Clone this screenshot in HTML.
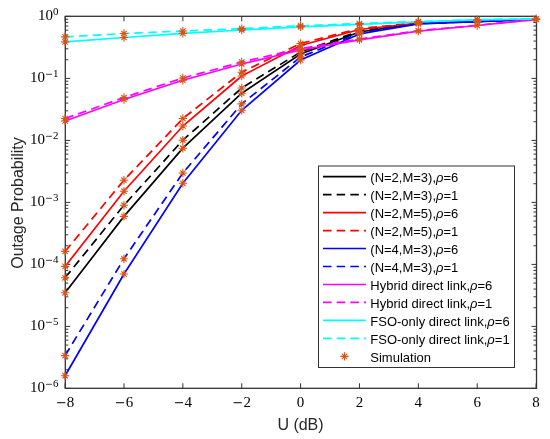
<!DOCTYPE html>
<html><head><meta charset="utf-8"><title>Outage Probability</title>
<style>
html,body{margin:0;padding:0;background:#fff;}
body{width:550px;height:439px;overflow:hidden;}
svg{display:block;}
.tk{font-family:"Liberation Serif",serif;font-size:15px;fill:#000;}
.sup{font-size:11px;}
.mn{font-family:"DejaVu Serif",serif;font-size:13px;}
.mn2{font-family:"DejaVu Serif",serif;font-size:9.5px;}
.lab{font-family:"Liberation Sans",sans-serif;font-size:16px;fill:#262626;}
.lg{font-family:"Liberation Sans",sans-serif;font-size:13px;fill:#000;}
</style></head><body>
<svg width="550" height="439" viewBox="0 0 550 439">
<rect x="0" y="0" width="550" height="439" fill="#fff"/>

<rect x="65.1" y="16.4" width="471.0" height="372.0" fill="#fff"/>
<path d="M65.10 388.3v-5M65.10 16.3v5M123.97 388.3v-5M123.97 16.3v5M182.85 388.3v-5M182.85 16.3v5M241.72 388.3v-5M241.72 16.3v5M300.60 388.3v-5M300.60 16.3v5M359.48 388.3v-5M359.48 16.3v5M418.35 388.3v-5M418.35 16.3v5M477.23 388.3v-5M477.23 16.3v5M536.10 388.3v-5M536.10 16.3v5M65.3 16.40h5M536.5 16.40h-5M65.3 59.74h3M536.5 59.74h-3M65.3 48.82h3M536.5 48.82h-3M65.3 41.07h3M536.5 41.07h-3M65.3 35.06h3M536.5 35.06h-3M65.3 30.15h3M536.5 30.15h-3M65.3 26.00h3M536.5 26.00h-3M65.3 22.41h3M536.5 22.41h-3M65.3 19.24h3M536.5 19.24h-3M65.3 78.40h5M536.5 78.40h-5M65.3 121.74h3M536.5 121.74h-3M65.3 110.82h3M536.5 110.82h-3M65.3 103.07h3M536.5 103.07h-3M65.3 97.06h3M536.5 97.06h-3M65.3 92.15h3M536.5 92.15h-3M65.3 88.00h3M536.5 88.00h-3M65.3 84.41h3M536.5 84.41h-3M65.3 81.24h3M536.5 81.24h-3M65.3 140.40h5M536.5 140.40h-5M65.3 183.74h3M536.5 183.74h-3M65.3 172.82h3M536.5 172.82h-3M65.3 165.07h3M536.5 165.07h-3M65.3 159.06h3M536.5 159.06h-3M65.3 154.15h3M536.5 154.15h-3M65.3 150.00h3M536.5 150.00h-3M65.3 146.41h3M536.5 146.41h-3M65.3 143.24h3M536.5 143.24h-3M65.3 202.40h5M536.5 202.40h-5M65.3 245.74h3M536.5 245.74h-3M65.3 234.82h3M536.5 234.82h-3M65.3 227.07h3M536.5 227.07h-3M65.3 221.06h3M536.5 221.06h-3M65.3 216.15h3M536.5 216.15h-3M65.3 212.00h3M536.5 212.00h-3M65.3 208.41h3M536.5 208.41h-3M65.3 205.24h3M536.5 205.24h-3M65.3 264.40h5M536.5 264.40h-5M65.3 307.74h3M536.5 307.74h-3M65.3 296.82h3M536.5 296.82h-3M65.3 289.07h3M536.5 289.07h-3M65.3 283.06h3M536.5 283.06h-3M65.3 278.15h3M536.5 278.15h-3M65.3 274.00h3M536.5 274.00h-3M65.3 270.41h3M536.5 270.41h-3M65.3 267.24h3M536.5 267.24h-3M65.3 326.40h5M536.5 326.40h-5M65.3 369.74h3M536.5 369.74h-3M65.3 358.82h3M536.5 358.82h-3M65.3 351.07h3M536.5 351.07h-3M65.3 345.06h3M536.5 345.06h-3M65.3 340.15h3M536.5 340.15h-3M65.3 336.00h3M536.5 336.00h-3M65.3 332.41h3M536.5 332.41h-3M65.3 329.24h3M536.5 329.24h-3M65.3 388.40h5M536.5 388.40h-5" stroke="#333333" stroke-width="1" fill="none"/>
<polyline points="65.10,292.80 123.97,216.40 182.85,148.20 241.72,93.20 300.60,54.00 359.48,32.00 418.35,23.40 477.23,21.50 536.10,19.20" fill="none" stroke="#000000" stroke-width="1.7"/>
<polyline points="65.10,277.80 123.97,205.20 182.85,140.20 241.72,88.00 300.60,52.00 359.48,31.00 418.35,23.20 477.23,21.40 536.10,19.20" fill="none" stroke="#000000" stroke-width="1.7" stroke-dasharray="8.6 5.25"/>
<polyline points="65.10,266.40 123.97,191.20 182.85,126.00 241.72,76.00 300.60,45.50 359.48,29.50 418.35,23.00 477.23,21.40 536.10,19.20" fill="none" stroke="#FF0000" stroke-width="1.7"/>
<polyline points="65.10,251.40 123.97,180.20 182.85,118.50 241.72,72.20 300.60,43.50 359.48,28.50 418.35,22.80 477.23,21.30 536.10,19.20" fill="none" stroke="#FF0000" stroke-width="1.7" stroke-dasharray="8.6 5.25"/>
<polyline points="65.10,375.70 123.97,274.00 182.85,183.30 241.72,110.30 300.60,60.00 359.48,34.00 418.35,23.80 477.23,21.70 536.10,19.20" fill="none" stroke="#0000FF" stroke-width="1.7"/>
<polyline points="65.10,355.60 123.97,258.80 182.85,173.00 241.72,103.90 300.60,57.00 359.48,33.00 418.35,23.50 477.23,21.60 536.10,19.20" fill="none" stroke="#0000FF" stroke-width="1.7" stroke-dasharray="8.6 5.25"/>
<polyline points="65.10,121.00 123.97,99.50 182.85,80.20 241.72,64.00 300.60,50.00 359.48,39.80 418.35,31.10 477.23,25.50 536.10,19.40" fill="none" stroke="#FF00FF" stroke-width="1.7"/>
<polyline points="65.10,118.50 123.97,97.50 182.85,78.00 241.72,62.00 300.60,48.50 359.48,39.00 418.35,30.70 477.23,25.30 536.10,19.30" fill="none" stroke="#FF00FF" stroke-width="1.7" stroke-dasharray="8.6 5.25"/>
<polyline points="65.10,41.90 123.97,37.50 182.85,33.40 241.72,30.00 300.60,26.80 359.48,24.30 418.35,21.80 477.23,19.90 536.10,18.80" fill="none" stroke="#00FFFF" stroke-width="1.7"/>
<polyline points="65.10,36.90 123.97,33.50 182.85,31.00 241.72,28.60 300.60,25.80 359.48,23.50 418.35,21.50 477.23,19.70 536.10,18.80" fill="none" stroke="#00FFFF" stroke-width="1.7" stroke-dasharray="8.6 5.25"/>
<rect x="65.3" y="16.3" width="471.2" height="372.0" fill="none" stroke="#333333" stroke-width="1.3"/>
<path d="M60.90 292.80H69.30M65.10 288.60V297.00M62.41 290.11L67.79 295.49M62.41 295.49L67.79 290.11M119.77 216.40H128.17M123.97 212.20V220.60M121.29 213.71L126.66 219.09M121.29 219.09L126.66 213.71M178.65 148.20H187.05M182.85 144.00V152.40M180.16 145.51L185.54 150.89M180.16 150.89L185.54 145.51M237.53 93.20H245.92M241.72 89.00V97.40M239.04 90.51L244.41 95.89M239.04 95.89L244.41 90.51M296.40 54.00H304.80M300.60 49.80V58.20M297.91 51.31L303.29 56.69M297.91 56.69L303.29 51.31M355.28 32.00H363.68M359.48 27.80V36.20M356.79 29.31L362.16 34.69M356.79 34.69L362.16 29.31M414.15 23.40H422.55M418.35 19.20V27.60M415.66 20.71L421.04 26.09M415.66 26.09L421.04 20.71M473.03 21.50H481.43M477.23 17.30V25.70M474.54 18.81L479.91 24.19M474.54 24.19L479.91 18.81M531.90 19.20H540.30M536.10 15.00V23.40M533.41 16.51L538.79 21.89M533.41 21.89L538.79 16.51M60.90 277.80H69.30M65.10 273.60V282.00M62.41 275.11L67.79 280.49M62.41 280.49L67.79 275.11M119.77 205.20H128.17M123.97 201.00V209.40M121.29 202.51L126.66 207.89M121.29 207.89L126.66 202.51M178.65 140.20H187.05M182.85 136.00V144.40M180.16 137.51L185.54 142.89M180.16 142.89L185.54 137.51M237.53 88.00H245.92M241.72 83.80V92.20M239.04 85.31L244.41 90.69M239.04 90.69L244.41 85.31M296.40 52.00H304.80M300.60 47.80V56.20M297.91 49.31L303.29 54.69M297.91 54.69L303.29 49.31M355.28 31.00H363.68M359.48 26.80V35.20M356.79 28.31L362.16 33.69M356.79 33.69L362.16 28.31M414.15 23.20H422.55M418.35 19.00V27.40M415.66 20.51L421.04 25.89M415.66 25.89L421.04 20.51M473.03 21.40H481.43M477.23 17.20V25.60M474.54 18.71L479.91 24.09M474.54 24.09L479.91 18.71M531.90 19.20H540.30M536.10 15.00V23.40M533.41 16.51L538.79 21.89M533.41 21.89L538.79 16.51M60.90 266.40H69.30M65.10 262.20V270.60M62.41 263.71L67.79 269.09M62.41 269.09L67.79 263.71M119.77 191.20H128.17M123.97 187.00V195.40M121.29 188.51L126.66 193.89M121.29 193.89L126.66 188.51M178.65 126.00H187.05M182.85 121.80V130.20M180.16 123.31L185.54 128.69M180.16 128.69L185.54 123.31M237.53 76.00H245.92M241.72 71.80V80.20M239.04 73.31L244.41 78.69M239.04 78.69L244.41 73.31M296.40 45.50H304.80M300.60 41.30V49.70M297.91 42.81L303.29 48.19M297.91 48.19L303.29 42.81M355.28 29.50H363.68M359.48 25.30V33.70M356.79 26.81L362.16 32.19M356.79 32.19L362.16 26.81M414.15 23.00H422.55M418.35 18.80V27.20M415.66 20.31L421.04 25.69M415.66 25.69L421.04 20.31M473.03 21.40H481.43M477.23 17.20V25.60M474.54 18.71L479.91 24.09M474.54 24.09L479.91 18.71M531.90 19.20H540.30M536.10 15.00V23.40M533.41 16.51L538.79 21.89M533.41 21.89L538.79 16.51M60.90 251.40H69.30M65.10 247.20V255.60M62.41 248.71L67.79 254.09M62.41 254.09L67.79 248.71M119.77 180.20H128.17M123.97 176.00V184.40M121.29 177.51L126.66 182.89M121.29 182.89L126.66 177.51M178.65 118.50H187.05M182.85 114.30V122.70M180.16 115.81L185.54 121.19M180.16 121.19L185.54 115.81M237.53 72.20H245.92M241.72 68.00V76.40M239.04 69.51L244.41 74.89M239.04 74.89L244.41 69.51M296.40 43.50H304.80M300.60 39.30V47.70M297.91 40.81L303.29 46.19M297.91 46.19L303.29 40.81M355.28 28.50H363.68M359.48 24.30V32.70M356.79 25.81L362.16 31.19M356.79 31.19L362.16 25.81M414.15 22.80H422.55M418.35 18.60V27.00M415.66 20.11L421.04 25.49M415.66 25.49L421.04 20.11M473.03 21.30H481.43M477.23 17.10V25.50M474.54 18.61L479.91 23.99M474.54 23.99L479.91 18.61M531.90 19.20H540.30M536.10 15.00V23.40M533.41 16.51L538.79 21.89M533.41 21.89L538.79 16.51M60.90 375.70H69.30M65.10 371.50V379.90M62.41 373.01L67.79 378.39M62.41 378.39L67.79 373.01M119.77 274.00H128.17M123.97 269.80V278.20M121.29 271.31L126.66 276.69M121.29 276.69L126.66 271.31M178.65 183.30H187.05M182.85 179.10V187.50M180.16 180.61L185.54 185.99M180.16 185.99L185.54 180.61M237.53 110.30H245.92M241.72 106.10V114.50M239.04 107.61L244.41 112.99M239.04 112.99L244.41 107.61M296.40 60.00H304.80M300.60 55.80V64.20M297.91 57.31L303.29 62.69M297.91 62.69L303.29 57.31M355.28 34.00H363.68M359.48 29.80V38.20M356.79 31.31L362.16 36.69M356.79 36.69L362.16 31.31M414.15 23.80H422.55M418.35 19.60V28.00M415.66 21.11L421.04 26.49M415.66 26.49L421.04 21.11M473.03 21.70H481.43M477.23 17.50V25.90M474.54 19.01L479.91 24.39M474.54 24.39L479.91 19.01M531.90 19.20H540.30M536.10 15.00V23.40M533.41 16.51L538.79 21.89M533.41 21.89L538.79 16.51M60.90 355.60H69.30M65.10 351.40V359.80M62.41 352.91L67.79 358.29M62.41 358.29L67.79 352.91M119.77 258.80H128.17M123.97 254.60V263.00M121.29 256.11L126.66 261.49M121.29 261.49L126.66 256.11M178.65 173.00H187.05M182.85 168.80V177.20M180.16 170.31L185.54 175.69M180.16 175.69L185.54 170.31M237.53 103.90H245.92M241.72 99.70V108.10M239.04 101.21L244.41 106.59M239.04 106.59L244.41 101.21M296.40 57.00H304.80M300.60 52.80V61.20M297.91 54.31L303.29 59.69M297.91 59.69L303.29 54.31M355.28 33.00H363.68M359.48 28.80V37.20M356.79 30.31L362.16 35.69M356.79 35.69L362.16 30.31M414.15 23.50H422.55M418.35 19.30V27.70M415.66 20.81L421.04 26.19M415.66 26.19L421.04 20.81M473.03 21.60H481.43M477.23 17.40V25.80M474.54 18.91L479.91 24.29M474.54 24.29L479.91 18.91M531.90 19.20H540.30M536.10 15.00V23.40M533.41 16.51L538.79 21.89M533.41 21.89L538.79 16.51M60.90 121.00H69.30M65.10 116.80V125.20M62.41 118.31L67.79 123.69M62.41 123.69L67.79 118.31M119.77 99.50H128.17M123.97 95.30V103.70M121.29 96.81L126.66 102.19M121.29 102.19L126.66 96.81M178.65 80.20H187.05M182.85 76.00V84.40M180.16 77.51L185.54 82.89M180.16 82.89L185.54 77.51M237.53 64.00H245.92M241.72 59.80V68.20M239.04 61.31L244.41 66.69M239.04 66.69L244.41 61.31M296.40 50.00H304.80M300.60 45.80V54.20M297.91 47.31L303.29 52.69M297.91 52.69L303.29 47.31M355.28 39.80H363.68M359.48 35.60V44.00M356.79 37.11L362.16 42.49M356.79 42.49L362.16 37.11M414.15 31.10H422.55M418.35 26.90V35.30M415.66 28.41L421.04 33.79M415.66 33.79L421.04 28.41M473.03 25.50H481.43M477.23 21.30V29.70M474.54 22.81L479.91 28.19M474.54 28.19L479.91 22.81M531.90 19.40H540.30M536.10 15.20V23.60M533.41 16.71L538.79 22.09M533.41 22.09L538.79 16.71M60.90 118.50H69.30M65.10 114.30V122.70M62.41 115.81L67.79 121.19M62.41 121.19L67.79 115.81M119.77 97.50H128.17M123.97 93.30V101.70M121.29 94.81L126.66 100.19M121.29 100.19L126.66 94.81M178.65 78.00H187.05M182.85 73.80V82.20M180.16 75.31L185.54 80.69M180.16 80.69L185.54 75.31M237.53 62.00H245.92M241.72 57.80V66.20M239.04 59.31L244.41 64.69M239.04 64.69L244.41 59.31M296.40 48.50H304.80M300.60 44.30V52.70M297.91 45.81L303.29 51.19M297.91 51.19L303.29 45.81M355.28 39.00H363.68M359.48 34.80V43.20M356.79 36.31L362.16 41.69M356.79 41.69L362.16 36.31M414.15 30.70H422.55M418.35 26.50V34.90M415.66 28.01L421.04 33.39M415.66 33.39L421.04 28.01M473.03 25.30H481.43M477.23 21.10V29.50M474.54 22.61L479.91 27.99M474.54 27.99L479.91 22.61M531.90 19.30H540.30M536.10 15.10V23.50M533.41 16.61L538.79 21.99M533.41 21.99L538.79 16.61M60.90 41.90H69.30M65.10 37.70V46.10M62.41 39.21L67.79 44.59M62.41 44.59L67.79 39.21M119.77 37.50H128.17M123.97 33.30V41.70M121.29 34.81L126.66 40.19M121.29 40.19L126.66 34.81M178.65 33.40H187.05M182.85 29.20V37.60M180.16 30.71L185.54 36.09M180.16 36.09L185.54 30.71M237.53 30.00H245.92M241.72 25.80V34.20M239.04 27.31L244.41 32.69M239.04 32.69L244.41 27.31M296.40 26.80H304.80M300.60 22.60V31.00M297.91 24.11L303.29 29.49M297.91 29.49L303.29 24.11M355.28 24.30H363.68M359.48 20.10V28.50M356.79 21.61L362.16 26.99M356.79 26.99L362.16 21.61M414.15 21.80H422.55M418.35 17.60V26.00M415.66 19.11L421.04 24.49M415.66 24.49L421.04 19.11M473.03 19.90H481.43M477.23 15.70V24.10M474.54 17.21L479.91 22.59M474.54 22.59L479.91 17.21M531.90 18.80H540.30M536.10 14.60V23.00M533.41 16.11L538.79 21.49M533.41 21.49L538.79 16.11M60.90 36.90H69.30M65.10 32.70V41.10M62.41 34.21L67.79 39.59M62.41 39.59L67.79 34.21M119.77 33.50H128.17M123.97 29.30V37.70M121.29 30.81L126.66 36.19M121.29 36.19L126.66 30.81M178.65 31.00H187.05M182.85 26.80V35.20M180.16 28.31L185.54 33.69M180.16 33.69L185.54 28.31M237.53 28.60H245.92M241.72 24.40V32.80M239.04 25.91L244.41 31.29M239.04 31.29L244.41 25.91M296.40 25.80H304.80M300.60 21.60V30.00M297.91 23.11L303.29 28.49M297.91 28.49L303.29 23.11M355.28 23.50H363.68M359.48 19.30V27.70M356.79 20.81L362.16 26.19M356.79 26.19L362.16 20.81M414.15 21.50H422.55M418.35 17.30V25.70M415.66 18.81L421.04 24.19M415.66 24.19L421.04 18.81M473.03 19.70H481.43M477.23 15.50V23.90M474.54 17.01L479.91 22.39M474.54 22.39L479.91 17.01M531.90 18.80H540.30M536.10 14.60V23.00M533.41 16.11L538.79 21.49M533.41 21.49L538.79 16.11" stroke="#D95319" stroke-width="1.1" fill="none"/>
<text class="tk" x="65.10" y="407" text-anchor="middle"><tspan class="mn">−</tspan>8</text>
<text class="tk" x="123.97" y="407" text-anchor="middle"><tspan class="mn">−</tspan>6</text>
<text class="tk" x="182.85" y="407" text-anchor="middle"><tspan class="mn">−</tspan>4</text>
<text class="tk" x="241.72" y="407" text-anchor="middle"><tspan class="mn">−</tspan>2</text>
<text class="tk" x="300.60" y="407" text-anchor="middle">0</text>
<text class="tk" x="359.48" y="407" text-anchor="middle">2</text>
<text class="tk" x="418.35" y="407" text-anchor="middle">4</text>
<text class="tk" x="477.23" y="407" text-anchor="middle">6</text>
<text class="tk" x="536.10" y="407" text-anchor="middle">8</text>
<text class="tk" x="58.5" y="19.90" text-anchor="end">10<tspan class="sup" dy="-5">0</tspan></text>
<text class="tk" x="58.5" y="81.90" text-anchor="end">10<tspan class="sup" dy="-5"><tspan class="mn2">−</tspan>1</tspan></text>
<text class="tk" x="58.5" y="143.90" text-anchor="end">10<tspan class="sup" dy="-5"><tspan class="mn2">−</tspan>2</tspan></text>
<text class="tk" x="58.5" y="205.90" text-anchor="end">10<tspan class="sup" dy="-5"><tspan class="mn2">−</tspan>3</tspan></text>
<text class="tk" x="58.5" y="267.90" text-anchor="end">10<tspan class="sup" dy="-5"><tspan class="mn2">−</tspan>4</tspan></text>
<text class="tk" x="58.5" y="329.90" text-anchor="end">10<tspan class="sup" dy="-5"><tspan class="mn2">−</tspan>5</tspan></text>
<text class="tk" x="58.5" y="391.90" text-anchor="end">10<tspan class="sup" dy="-5"><tspan class="mn2">−</tspan>6</tspan></text>
<text class="lab" x="300.5" y="430" text-anchor="middle">U (dB)</text>
<text class="lab" transform="translate(22.6,203) rotate(-90)" text-anchor="middle">Outage Probability</text>
<rect x="318.5" y="166.0" width="196.0" height="201.5" fill="#fff" stroke="#333333" stroke-width="1"/>
<path d="M323 176.60H366" stroke="#000000" stroke-width="1.7" fill="none"/>
<text class="lg" x="370.3" y="182.10">(N=2,M=3),<tspan font-style="italic">ρ</tspan>=6</text>
<path d="M323 194.58H366" stroke="#000000" stroke-width="1.7" stroke-dasharray="8.5 5.15" fill="none"/>
<text class="lg" x="370.3" y="200.08">(N=2,M=3),<tspan font-style="italic">ρ</tspan>=1</text>
<path d="M323 212.56H366" stroke="#FF0000" stroke-width="1.7" fill="none"/>
<text class="lg" x="370.3" y="218.06">(N=2,M=5),<tspan font-style="italic">ρ</tspan>=6</text>
<path d="M323 230.54H366" stroke="#FF0000" stroke-width="1.7" stroke-dasharray="8.5 5.15" fill="none"/>
<text class="lg" x="370.3" y="236.04">(N=2,M=5),<tspan font-style="italic">ρ</tspan>=1</text>
<path d="M323 248.52H366" stroke="#0000FF" stroke-width="1.7" fill="none"/>
<text class="lg" x="370.3" y="254.02">(N=4,M=3),<tspan font-style="italic">ρ</tspan>=6</text>
<path d="M323 266.50H366" stroke="#0000FF" stroke-width="1.7" stroke-dasharray="8.5 5.15" fill="none"/>
<text class="lg" x="370.3" y="272.00">(N=4,M=3),<tspan font-style="italic">ρ</tspan>=1</text>
<path d="M323 284.48H366" stroke="#FF00FF" stroke-width="1.7" fill="none"/>
<text class="lg" x="370.3" y="289.98">Hybrid direct link,<tspan font-style="italic">ρ</tspan>=6</text>
<path d="M323 302.46H366" stroke="#FF00FF" stroke-width="1.7" stroke-dasharray="8.5 5.15" fill="none"/>
<text class="lg" x="370.3" y="307.96">Hybrid direct link,<tspan font-style="italic">ρ</tspan>=1</text>
<path d="M323 320.44H366" stroke="#00FFFF" stroke-width="1.7" fill="none"/>
<text class="lg" x="370.3" y="325.94">FSO-only direct link,<tspan font-style="italic">ρ</tspan>=6</text>
<path d="M323 338.42H366" stroke="#00FFFF" stroke-width="1.7" stroke-dasharray="8.5 5.15" fill="none"/>
<text class="lg" x="370.3" y="343.92">FSO-only direct link,<tspan font-style="italic">ρ</tspan>=1</text>
<path d="M340.30 356.40H348.70M344.50 352.20V360.60M341.81 353.71L347.19 359.09M341.81 359.09L347.19 353.71" stroke="#D95319" stroke-width="1.1" fill="none"/>
<text class="lg" x="370.3" y="361.90">Simulation</text>
</svg>
</body></html>
